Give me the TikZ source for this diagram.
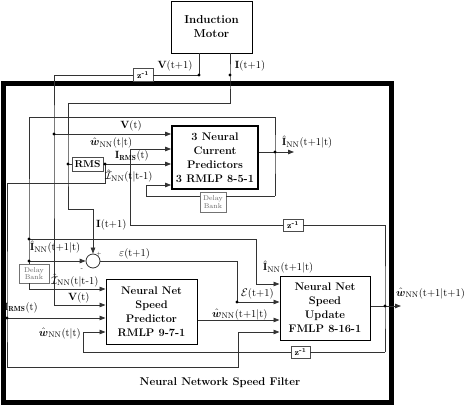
\documentclass[tikz,border=0pt]{standalone}
\usepackage{fontspec}
\usepackage{amsmath}
\usetikzlibrary{arrows.meta}
\newcommand{\nn}{\text{\fontsize{8}{8}\selectfont NN}}
\newcommand{\wh}{$\hat{\boldsymbol{w}}_{\nn}$}
\newcommand{\Ih}{$\hat{\mathbf{I}}_{\nn}$}
\newcommand{\Jh}{$\hat{\mathcal{I}}_{\nn}$}
\newcommand{\Irms}{$\mathbf{I}_{\mathbf{RMS}}$}
\begin{document}
\begin{tikzpicture}[x=1pt,y=-1pt,
  blk/.style={draw, line width=1pt, fill=white, align=center, inner sep=0pt,
    font=\bfseries\fontsize{11}{14}\selectfont},
  sbox/.style={draw=black!55, line width=0.8pt, fill=white, align=center, inner sep=0pt,
    text=black!60, font=\fontsize{7}{7.5}\selectfont},
  zbox/.style={draw=black!70, line width=0.8pt, fill=white, inner sep=0pt,
    font=\bfseries\fontsize{8.5}{9}\selectfont},
  wire/.style={line width=0.8pt, draw=black!80},
  arr/.style={wire, -{Triangle[length=6pt,width=4.5pt]}},
  jdot/.style={circle, fill=black, inner sep=0pt, minimum size=3.2pt},
  lab/.style={inner sep=0pt, font=\fontsize{10.5}{11}\selectfont}
]
\useasboundingbox (0,0) rectangle (474,406);
% outer frame
\draw[line width=5pt] (3.5,83.5) rectangle (391,402.5);
\node[font=\bfseries\fontsize{11.2}{12}\selectfont, inner sep=0pt] (title) at (220,383) {Neural Network Speed Filter};

% blocks
\node[blk, line width=0.8pt, minimum width=81pt, minimum height=52pt, font=\bfseries\fontsize{11.5}{14}\selectfont] (motor) at (211.5,27) {Induction\\Motor};
\node[blk, line width=1.8pt, minimum width=86pt, minimum height=63pt] (cur) at (215,157.5)
  {{\addfontfeature{LetterSpace=12}3 Neural}\\Current\\Predictors\\3 RMLP 8-5-1};
\node[blk, minimum width=91pt, minimum height=65pt] (pred) at (151.5,311.5)
  {Neural Net\\Speed\\Predictor\\RMLP 9-7-1};
\node[blk, minimum width=90pt, minimum height=64pt] (upd) at (325,308)
  {Neural Net\\Speed\\Update\\FMLP 8-16-1};
\node[draw=black!70, line width=0.8pt, fill=white, inner sep=0pt, minimum width=31pt, minimum height=14pt,
  font=\bfseries\fontsize{10}{10}\selectfont] (rms) at (87.5,164) {RMS};
\node[sbox, minimum width=26pt, minimum height=20pt] (db1) at (213,202) {Delay\\Bank};
\node[sbox, minimum width=30pt, minimum height=19pt] (db2) at (34,273.5) {Delay\\Bank};
\node[zbox, minimum width=20pt, minimum height=13pt] (z1) at (143,75) {z$^{\text{-1}}$};
\node[zbox, minimum width=20pt, minimum height=12pt] (z2) at (293,225) {z$^{\text{-1}}$};
\node[zbox, minimum width=19pt, minimum height=12pt] (z3) at (300.5,352) {z$^{\text{-1}}$};
\node[draw=black!80, line width=0.8pt, circle, minimum size=14pt, inner sep=0pt] (sum) at (93,261) {};
\node[inner sep=0pt, font=\fontsize{5}{5}\selectfont] (splus) at (99,254) {+};
\node[inner sep=0pt, font=\fontsize{6}{6}\selectfont] (sminus) at (82,270) {-};

% coordinates
\coordinate (v1) at (199,75);  \coordinate (v2) at (54,75);
\coordinate (v3) at (54,134);  \coordinate (v4) at (54,305);
\coordinate (i1) at (230,75);  \coordinate (i2) at (230,103);
\coordinate (i3) at (68,103);  \coordinate (i4) at (68,164);
\coordinate (i5) at (68,209);  \coordinate (i6) at (93,209);
\coordinate (r1) at (105,164); \coordinate (r2) at (105,183);
\coordinate (r3) at (7,183);   \coordinate (r4) at (7,318);
\coordinate (r5) at (7,367);   \coordinate (r6) at (238,367);
\coordinate (r7) at (238,332);
\coordinate (c1) at (275,152); \coordinate (c2) at (294,152);
\coordinate (c3) at (275,117); \coordinate (c4) at (29,117);
\coordinate (c5) at (29,239);  \coordinate (c6) at (29,261);
\coordinate (c7) at (256,239); \coordinate (c8) at (256,284);
\coordinate (c9) at (275,196); \coordinate (c10) at (146,196);
\coordinate (c11) at (146,185);
\coordinate (d1) at (29,289);
\coordinate (e1) at (237,261); \coordinate (e2) at (237,302);
\coordinate (p1) at (200,320);
\coordinate (o1) at (385,306); \coordinate (o2) at (401,306);
\coordinate (o3) at (385,225); \coordinate (o4) at (130,225);
\coordinate (o5) at (130,149); \coordinate (o6) at (385,352);
\coordinate (o7) at (83,352);  \coordinate (o8) at (83,332);

% V(t+1)
\draw[wire] (motor.south -| v1) -- (v1) -- (z1.east);
\draw[wire] (z1.west) -- (v2) -- (v3) -- (v4);
\draw[arr] (v3) -- (v3 -| cur.west);
\draw[arr] (v4) -- (v4 -| pred.west);
% I(t+1)
\draw[wire] (motor.south -| i1) -- (i1) -- (i2) -- (i3) -- (i4) -- (i5) -- (i6);
\draw[arr] (i6) -- (sum.north);
\draw[wire] (i4) -- (rms.west);
% RMS
\draw[wire] (rms.east) -- (r1);
\draw[arr] (r1) -- (r1 -| cur.west);
\draw[wire] (r1) -- (r2) -- (r3) -- (r4) -- (r5) -- (r6) -- (r7);
\draw[arr] (r4) -- (r4 -| pred.west);
\draw[arr] (r7) -- (r7 -| upd.west);
% current predictor output
\draw[wire] (cur.east |- c1) -- (c1);
\draw[arr] (c1) -- (c2);
\draw[wire] (c9) -- (c1) -- (c3) -- (c4) -- (c5) -- (c6) -- (db2.north -| c6);
\draw[wire] (c5) -- (c7) -- (c8);
\draw[arr] (c8) -- (c8 -| upd.west);
\draw[arr] (c6) -- (sum.west);
\draw[wire] (c9) -- (c9 -| db1.east);
\draw[wire] (db1.west |- c9) -- (c10) -- (c11);
\draw[arr] (c11) -- (c11 -| cur.west);
% delay bank 2
\draw[wire] (db2.south -| d1) -- (d1);
\draw[arr] (d1) -- (d1 -| pred.west);
% error
\draw[wire] (sum.east) -- (e1) -- (e2);
\draw[arr] (e2) -- (e2 -| upd.west);
% predictor output
\draw[arr] (pred.east |- p1) -- (p1 -| upd.west);
% update output
\draw[wire] (upd.east |- o1) -- (o1);
\draw[arr] (o1) -- (o2);
\draw[wire] (o6) -- (o1) -- (o3) -- (z2.east);
\draw[wire] (z2.west) -- (o4) -- (o5);
\draw[arr] (o5) -- (o5 -| cur.west);
\draw[wire] (o6) -- (z3.east);
\draw[wire] (z3.west) -- (o7) -- (o8);
\draw[arr] (o8) -- (o8 -| pred.west);

% dots
\foreach \p in {v1,v3,i1,i4,r1,r4,c1,c5,c6,e2,o1} \node[jdot] at (\p) {};

% labels
\node[lab] (lv1) at (175,66) {\textbf{V}(t+1)};
\node[lab] (li1) at (250,66) {\textbf{I}(t+1)};
\node[lab] (lv2) at (131,126) {\textbf{V}(t)};
\node[lab, anchor=base west] (lw1) at (90,146) {\wh(t|t)};
\node[lab, anchor=base west] (lr1) at (115,159) {\Irms(t)};
\node[lab, anchor=base west] (lj1) at (105,180) {\Jh(t|t-1)};
\node[lab, anchor=base west] (li2) at (282,146) {\Ih(t+1|t)};
\node[lab, anchor=base west] (li3) at (96,228) {\textbf{I}(t+1)};
\node[lab, anchor=base west] (li4) at (30,251) {\Ih(t+1|t)};
\node[lab, anchor=base west] (le1) at (119,257) {$\varepsilon$(t+1)};
\node[lab, anchor=base west] (lj2) at (51,284) {\Jh(t|t-1)};
\node[lab, anchor=base west] (lv3) at (68,301) {\textbf{V}(t)};
\node[lab, anchor=base west] (lr2) at (4,310) {\Irms(t)};
\node[lab, anchor=base east] (lw2) at (81,336) {\wh(t|t)};
\node[lab, anchor=base west] (lw3) at (212,317) {\wh(t+1|t)};
\node[lab, anchor=base west] (le2) at (241,296) {$\mathcal{E}$(t+1)};
\node[lab, anchor=base west] (li5) at (263,271) {\Ih(t+1|t)};
\node[lab, anchor=base west] (lw4) at (396,296) {\wh(t+1|t+1)};
\end{tikzpicture}
\end{document}
